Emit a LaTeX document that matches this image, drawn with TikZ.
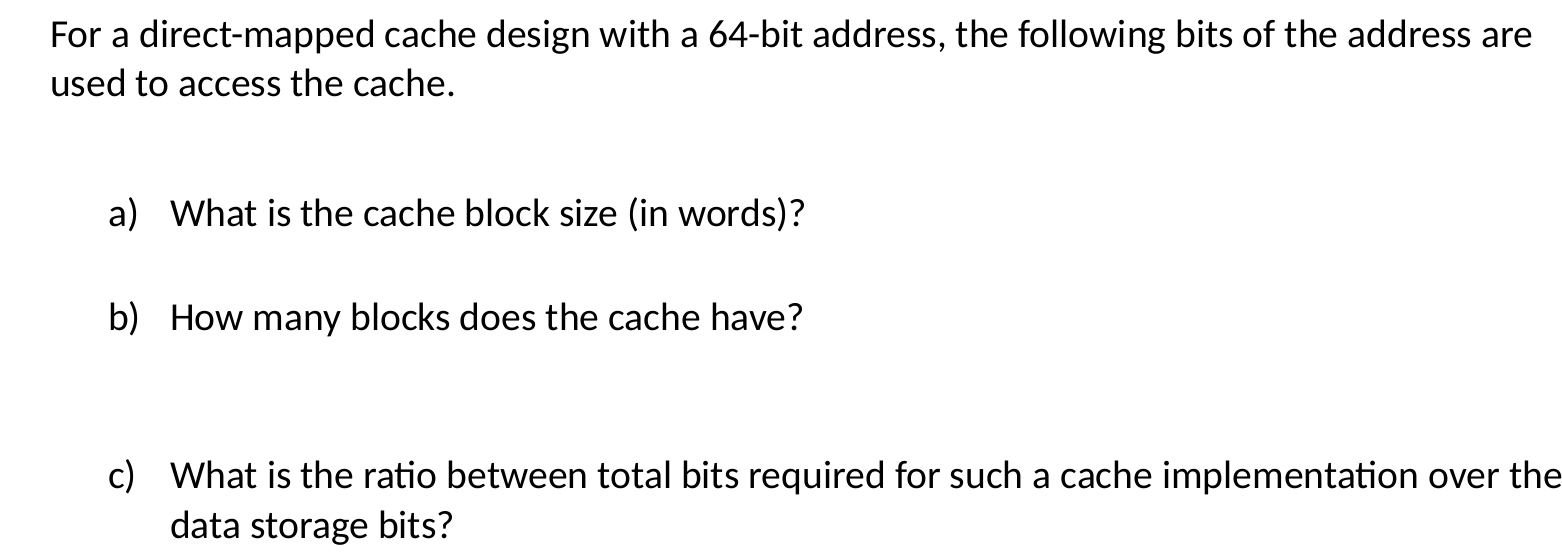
\documentclass[tikz,border=0pt]{standalone}
\usepackage{fontspec}
\setmainfont{Carlito}
\begin{document}
\begin{tikzpicture}[x=1pt,y=-1pt,txt/.style={anchor=base west,inner sep=0pt,font=\fontsize{39.6}{46}\selectfont}]
\useasboundingbox (0,0) rectangle (1562,556);
\clip (0,0) rectangle (1562,556);
\node[txt] (l1) at (50,48) {For a direct-mapped cache design with a 64-bit address, the following bits of the address are};
\node[txt] (l2) at (50,97) {used to access the cache.};
\node[txt] (a) at (108,226) {a)};
\node[txt] (at) at (170,226) {What is the cache block size (in words)?};
\node[txt] (b) at (108,330) {b)};
\node[txt] (bt) at (170,330) {How many blocks does the cache have?};
\node[txt] (c) at (108,488) {c)};
\node[txt] (ct) at (170,488) {What is the ratio between total bits required for such a cache implementation over the};
\node[txt] (ct2) at (170,538) {data storage bits?};
\end{tikzpicture}
\end{document}
